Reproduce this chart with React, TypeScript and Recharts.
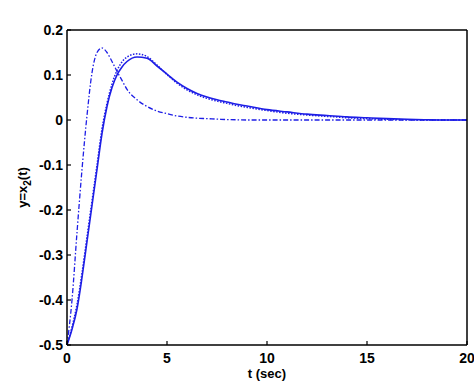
import React from 'react';
import { LineChart, Line, XAxis, YAxis } from 'recharts';

const timeSec = [0, 0.25, 0.5, 0.75, 1, 1.25, 1.5, 1.75, 2, 2.25, 2.5, 2.75, 3, 3.5, 4, 4.5, 5, 5.5, 6, 6.5, 7, 7.5, 8, 8.5, 9, 10, 11, 12, 13, 14, 15, 16, 17, 18, 19, 20];
const solidSeries = [-0.5, -0.465, -0.42, -0.35, -0.27, -0.19, -0.11, -0.03, 0.03, 0.072, 0.1, 0.118, 0.13, 0.14, 0.137, 0.12, 0.102, 0.084, 0.07, 0.059, 0.051, 0.045, 0.04, 0.035, 0.031, 0.023, 0.018, 0.013, 0.01, 0.007, 0.005, 0.003, 0.0015, 0.0005, 0, 0];
const dottedSeries = [-0.5, -0.46, -0.41, -0.34, -0.26, -0.18, -0.1, -0.02, 0.037, 0.08, 0.11, 0.129, 0.14, 0.147, 0.141, 0.122, 0.101, 0.082, 0.067, 0.056, 0.048, 0.042, 0.037, 0.032, 0.028, 0.021, 0.015, 0.011, 0.008, 0.005, 0.003, 0.0015, 0.0005, 0, 0, 0];
const dashDotSeries = [-0.5, -0.4, -0.25, -0.11, 0.01, 0.105, 0.15, 0.16, 0.15, 0.13, 0.108, 0.088, 0.068, 0.045, 0.03, 0.02, 0.014, 0.009, 0.006, 0.004, 0.003, 0.002, 0.001, 0.0005, 0, 0, 0, 0, 0, 0, 0, 0, 0, 0, 0, 0];

const xTicks = [0, 5, 10, 15, 20];
const yTicks = [-0.5, -0.4, -0.3, -0.2, -0.1, 0, 0.1, 0.2];

const rows = timeSec.map((t, i) => ({
  t,
  solid: solidSeries[i],
  dotted: dottedSeries[i],
  dashdot: dashDotSeries[i],
}));

const BLUE = '#1e1ee6';
const FONT = '"Liberation Sans", Arial, Helvetica, sans-serif';
const tickStyle = { fontFamily: FONT, fontWeight: 700, fontSize: 14, fill: '#000' };

const fmtY = (v: number) => {
  const r = Math.round(v * 10) / 10;
  if (r === 0) return '0';
  return r.toFixed(1);
};

const XLabel = (props: any) => {
  const vb = props.viewBox || {};
  return (
    <text x={vb.x + vb.width / 2} y={vb.y + 33} textAnchor="middle" fontFamily={FONT} fontWeight={700} fontSize={13} fill="#000">
      t (sec)
    </text>
  );
};

const YLabel = (props: any) => {
  const vb = props.viewBox || {};
  const cx = 27;
  const cy = vb.y + vb.height / 2;
  return (
    <text x={cx} y={cy} transform={`rotate(-90 ${cx} ${cy})`} textAnchor="middle" fontFamily={FONT} fontWeight={700} fontSize={13} fill="#000">
      <tspan>y=x</tspan>
      <tspan fontSize={10} dy={4}>2</tspan>
      <tspan dy={-4}>(t)</tspan>
    </text>
  );
};

export default function App() {
  return (
    <div style={{ position: 'absolute', left: 0, top: 0, width: 474, height: 382, background: '#fff' }}>
      <LineChart width={474} height={382} data={rows} margin={{ top: 29, right: 6, bottom: 7, left: 7 }}>
        <XAxis
          dataKey="t"
          type="number"
          domain={[0, 20]}
          ticks={xTicks}
          interval={0}
          tickSize={-4}
          tickMargin={12}
          height={30}
          tick={tickStyle}
          axisLine={{ stroke: '#000', strokeWidth: 1.5 }}
          tickLine={{ stroke: '#000', strokeWidth: 1.2 }}
          label={<XLabel />}
        />
        <XAxis
          xAxisId="top"
          orientation="top"
          dataKey="t"
          type="number"
          domain={[0, 20]}
          ticks={xTicks}
          interval={0}
          tickSize={-4}
          height={1}
          tick={false}
          axisLine={{ stroke: '#000', strokeWidth: 1.5 }}
          tickLine={{ stroke: '#000', strokeWidth: 1.2 }}
        />
        <YAxis
          type="number"
          domain={[-0.5, 0.2]}
          ticks={yTicks}
          interval={0}
          tickSize={-4}
          tickMargin={8}
          width={60}
          tick={tickStyle}
          tickFormatter={fmtY}
          allowDataOverflow
          axisLine={{ stroke: '#000', strokeWidth: 1.5 }}
          tickLine={{ stroke: '#000', strokeWidth: 1.2 }}
          label={<YLabel />}
        />
        <YAxis
          yAxisId="right"
          orientation="right"
          type="number"
          domain={[-0.5, 0.2]}
          ticks={yTicks}
          interval={0}
          tickSize={-4}
          width={1}
          tick={false}
          allowDataOverflow
          axisLine={{ stroke: '#000', strokeWidth: 1.5 }}
          tickLine={{ stroke: '#000', strokeWidth: 1.2 }}
        />
        <Line type="monotone" dataKey="solid" stroke={BLUE} strokeWidth={1.6} dot={false} isAnimationActive={false} />
        <Line type="monotone" dataKey="dotted" stroke={BLUE} strokeWidth={1.5} strokeDasharray="1.5 1.5" dot={false} isAnimationActive={false} />
        <Line type="monotone" xAxisId="top" yAxisId="right" dataKey="dashdot" stroke={BLUE} strokeWidth={1.3} strokeDasharray="5 2 1.5 2" dot={false} isAnimationActive={false} />
      </LineChart>
    </div>
  );
}
